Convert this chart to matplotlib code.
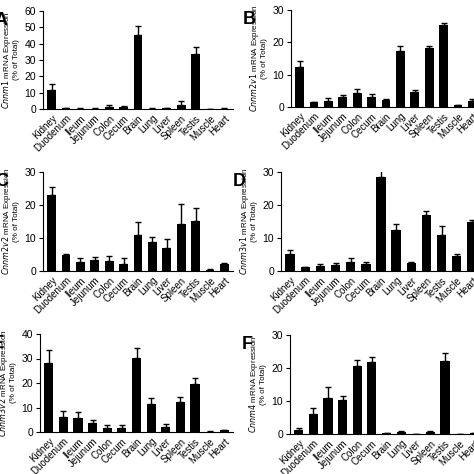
import matplotlib
matplotlib.use("Agg")
import matplotlib.pyplot as plt
import numpy as np

plt.rcParams["font.family"] = "Liberation Sans"

tissues = ["Kidney", "Duodenum", "Ileum", "Jejunum", "Colon", "Cecum", "Brain",
           "Lung", "Liver", "Spleen", "Testis", "Muscle", "Heart"]

cnnm1 = [11.5, 0.5, 0.3, 0.3, 1.0, 1.0, 45.0, 0.3, 0.5, 2.5, 33.5, 0.0, 0.3]
cnnm1_err = [3.5, 0.2, 0.1, 0.1, 1.5, 0.8, 6.0, 0.1, 0.2, 2.5, 4.5, 0.0, 0.1]
cnnm2v1 = [12.5, 1.5, 2.0, 3.0, 4.2, 3.2, 2.2, 17.3, 4.5, 18.2, 25.3, 0.5, 2.0]
cnnm2v1_err = [1.7, 0.2, 0.7, 0.7, 1.3, 0.7, 0.4, 1.6, 0.8, 0.8, 0.7, 0.2, 0.5]
cnnm2v2 = [23.0, 4.8, 2.8, 3.3, 3.0, 2.2, 11.0, 8.8, 7.0, 14.3, 15.2, 0.4, 2.2]
cnnm2v2_err = [2.5, 0.3, 1.0, 1.0, 1.5, 1.6, 4.0, 1.4, 2.8, 6.0, 3.9, 0.2, 0.3]
cnnm3v1 = [5.3, 1.2, 1.5, 1.7, 2.6, 2.2, 28.6, 12.4, 2.5, 17.0, 10.8, 4.6, 15.0]
cnnm3v1_err = [1.2, 0.1, 0.6, 0.6, 1.2, 0.6, 1.9, 1.7, 0.3, 1.1, 2.8, 0.6, 0.5]
cnnm3v2 = [28.0, 6.2, 5.8, 3.8, 1.5, 1.5, 30.2, 11.5, 2.2, 12.2, 19.6, 0.2, 0.7]
cnnm3v2_err = [5.3, 2.2, 2.2, 1.3, 1.2, 1.3, 4.0, 2.2, 1.0, 2.2, 2.5, 0.1, 0.2]
cnnm4 = [1.3, 6.2, 11.0, 10.3, 20.6, 21.8, 0.3, 0.7, 0.1, 0.7, 22.0, 0.1, 0.3]
cnnm4_err = [0.5, 1.6, 3.3, 1.3, 1.8, 1.4, 0.1, 0.3, 0.05, 0.2, 2.4, 0.05, 0.1]

W = 474.0
# (letter, gene, values, errors, ymax, left, bottom, width, height) in pixels
panels = [
    ("A", "Cnnm1", cnnm1, cnnm1_err, 60, 43, 365, 190, 98),
    ("B", "Cnnm2v1", cnnm2v1, cnnm2v1_err, 30, 291, 367, 190, 97),
    ("C", "Cnnm2v2", cnnm2v2, cnnm2v2_err, 30, 43, 203, 190, 99),
    ("D", "Cnnm3v1", cnnm3v1, cnnm3v1_err, 30, 281, 203, 200, 99),
    ("E", "Cnnm3v2", cnnm3v2, cnnm3v2_err, 40, 40, 42, 193, 98),
    ("F", "Cnnm4", cnnm4, cnnm4_err, 30, 290, 40, 193, 99),
]

fig = plt.figure(figsize=(4.74, 4.74), dpi=100)
x = np.arange(len(tissues))
for letter, gene, vals, errs, ymax, l, b, w, h in panels:
    ax = fig.add_axes([l / W, b / W, w / W, h / W])
    ax.bar(x, vals, width=0.62, color="black")
    ax.errorbar(x, vals, yerr=[np.zeros(len(errs)), errs], fmt="none",
                ecolor="black", elinewidth=1, capsize=2.5, capthick=1)
    ax.set_xlim(-0.6, len(tissues) - 0.4)
    ax.set_ylim(0, ymax)
    ax.set_yticks(np.arange(0, ymax + 1, 10))
    ax.set_xticks(x)
    ax.set_xticklabels(tissues, rotation=45, ha="right", rotation_mode="anchor", fontsize=7)
    ax.tick_params(axis="y", labelsize=7.5, length=3, pad=2)
    ax.tick_params(axis="x", length=0, pad=3)
    for s in ["top", "right"]:
        ax.spines[s].set_visible(False)
    ax.set_ylabel(r"$\it{" + gene + r"}$ mRNA Expression" + "\n(% of Total)",
                  fontsize=5.8, labelpad=3, linespacing=1.0)
    fig.text((l - 48) / W, (b + h - 14) / W, letter, fontsize=13, fontweight="bold")

fig.savefig("out.png", dpi=100)
